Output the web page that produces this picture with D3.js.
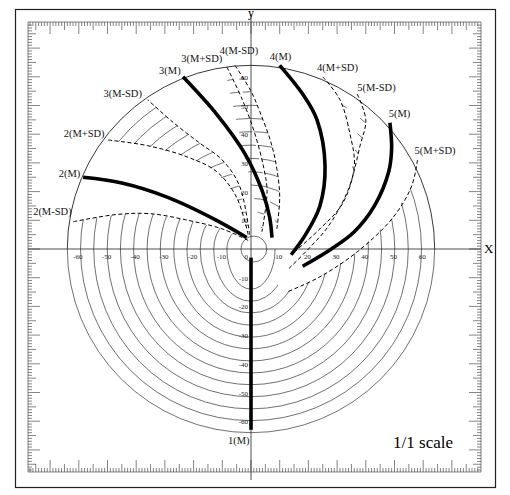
<!DOCTYPE html>
<html><head><meta charset="utf-8">
<script src="https://cdn.jsdelivr.net/npm/d3@7"></script>
<style>body{margin:0;background:#fff}</style></head>
<body><svg id="c" width="510" height="495"></svg>
<script>
// ---- data (units = mm, 1/1 scale) ----
const axisTicks = [-60,-50,-40,-30,-20,-10,10,20,30,40,50,60];
const ringRx = [8.4,13,17.7,22.3,26.9,31.6,36.2,40.9,45.5,50.1,54.8,59.4,64];
const ringRy = [14,18.2,22.3,26.5,30.7,34.8,39,43.2,47.3,51.5,55.7,59.8,64];
const curve1M    = [[0,-3],[0,-63]];
const curve2MSD  = [[-1,3],[-10,7],[-22,10],[-35,12.3],[-47,12],[-62,9.5]];
const curve2M    = [[-1.5,4],[-12,10],[-29,18],[-45,23],[-58.5,25]];
const curve2MpSD = [[-1,5],[-5,18],[-12,27],[-22,32],[-36,36],[-50,38]];
const curve3MSD  = [[-0.5,5],[-4,22],[-10,31],[-18,37],[-27,44],[-36,52]];
const curve3M    = [[-23.7,60],[-12,47],[-2,33],[4,20],[6.5,11],[7.3,4]];
const curve3MpSD = [[-8.4,63.4],[-3,52],[1.4,40],[4.5,28],[5.6,20],[3.8,6]];
const curve4MSD  = [[-5.6,64],[0,55],[3,48],[7,37],[9,28],[10,18],[9,7]];
const curve4M    = [[10,64],[18,54],[23,45],[25.8,29],[24,15],[19,5],[14,-2]];
const curve4MpSD = [[25,60],[31,52],[34.5,40],[36,29],[32,16],[24,7],[14,-2]];
const curve5MSD  = [[37,54],[40,45],[38,36],[34,21],[27,8],[20,0],[13,-7]];
const curve5M    = [[48.4,44],[49,35],[48,27],[43,15],[36,6],[28,0],[18,-6]];
const curve5MpSD = [[58,31],[56,22],[49.5,11],[37,-1],[24,-9.7],[12.5,-15]];
const labels = [
 ["1(M)",-0.5,-68,"end"],["2(M-SD)",-62.5,12,"end"],["2(M)",-59.5,25,"end"],
 ["2(M+SD)",-51,39,"end"],["3(M-SD)",-38,53,"end"],["3(M)",-24.5,61,"end"],
 ["3(M+SD)",-10,65,"end"],["4(M-SD)",2.5,68,"end"],["4(M)",6.5,66,"start"],
 ["4(M+SD)",23,62,"start"],["5(M-SD)",37,55,"start"],["5(M)",48,46,"start"],
 ["5(M+SD)",57,33,"start"]];

// ---- drawing ----
const svg = d3.select("#c");
const K = 2.87, OX = 251, OY = 249;
const x = d3.scaleLinear().domain([-80,80]).range([OX-80*K, OX+80*K]);
const y = d3.scaleLinear().domain([-80,80]).range([OY+80*K, OY-80*K]);
const line = d3.line().x(d=>x(d[0])).y(d=>y(d[1])).curve(d3.curveCatmullRom);
const poly = pts => "M"+pts.map(p=>x(p[0])+","+y(p[1])).join("L")+"Z";
const F = "'Liberation Serif', 'DejaVu Serif', serif";

// frame
svg.append("rect").attr("x",15.5).attr("y",9.5).attr("width",480).attr("height",478)
  .attr("fill","none").attr("stroke","#222").attr("stroke-width",1.2);

// rulers
const rl = {top:22, bottom:472, left:28, right:481};
const rg = svg.append("g").attr("stroke","#333").attr("stroke-width",0.6);
rg.append("line").attr("x1",rl.left).attr("x2",rl.right).attr("y1",rl.top).attr("y2",rl.top);
rg.append("line").attr("x1",rl.left).attr("x2",rl.right).attr("y1",rl.bottom).attr("y2",rl.bottom);
rg.append("line").attr("x1",rl.left).attr("x2",rl.left).attr("y1",rl.top).attr("y2",rl.bottom);
rg.append("line").attr("x1",rl.right).attr("x2",rl.right).attr("y1",rl.top).attr("y2",rl.bottom);
const tl = i => i%10===0?12:(i%5===0?8:4);
for(let i=-90;i<=90;i++){
  const px=x(i);
  if(px>rl.left+1 && px<rl.right-1){
    rg.append("line").attr("x1",px).attr("x2",px).attr("y1",rl.top).attr("y2",rl.top+tl(i));
    rg.append("line").attr("x1",px).attr("x2",px).attr("y1",rl.bottom).attr("y2",rl.bottom-tl(i));
  }
  const py=y(i);
  if(py>rl.top+1 && py<rl.bottom-1){
    rg.append("line").attr("y1",py).attr("y2",py).attr("x1",rl.left).attr("x2",rl.left+tl(i));
    rg.append("line").attr("y1",py).attr("y2",py).attr("x1",rl.right).attr("x2",rl.right-tl(i));
  }
}

// clip regions
const defs = svg.append("defs");
const cp = defs.append("clipPath").attr("id","upclip");
const ext = (a,b)=>a.concat(b.slice().reverse());
cp.append("path").attr("d", poly(curve2MSD.concat([[-75,9.5],[-75,0],[0,0]])));
cp.append("path").attr("d", poly(ext(curve2MpSD.concat([[-70,40]]), curve3MSD.concat([[-50,70]]))));
cp.append("path").attr("d", poly(ext(curve3MpSD.concat([[-12,75]]), curve4MSD.concat([[-8,75]]))));
cp.append("path").attr("d", poly(ext(curve4MpSD.slice(0,4).concat([[30,75]]), curve5MSD.slice(0,4).concat([[42,70]]))));
cp.append("path").attr("d", poly([[75,45],[58,31],[56,22],[49.5,11],[37,-1],[75,0]]));
const mk = defs.append("mask").attr("id","lowmask");
mk.append("rect").attr("x",0).attr("y",0).attr("width",510).attr("height",495).attr("fill","#fff");
mk.append("path").attr("d", poly([[12.5,-15],[24,-9.7],[37,-1],[38,0.5],[9,0.5],[9,-12]])).attr("fill","#000");

// rings
const rings = svg.append("g").attr("fill","none").attr("stroke","#333").attr("stroke-width",0.7);
const up = rings.append("g").attr("clip-path","url(#upclip)");
const low = rings.append("g").attr("mask","url(#lowmask)");
ringRx.forEach((rx,i)=>{
  const ry = ringRy[i];
  if(i < ringRx.length-1)
    up.append("path").attr("d",`M${x(-rx)},${OY} A${rx*K},${rx*K} 0 0 1 ${x(rx)},${OY}`);
  low.append("path").attr("d",`M${x(-rx)},${OY} A${rx*K},${ry*K} 0 0 0 ${x(rx)},${OY}`);
});
rings.append("path").attr("d",`M${x(-64)},${OY} A${64*K},${64*K} 0 0 1 ${x(64)},${OY}`).attr("stroke","#222").attr("stroke-width",0.9);
rings.append("circle").attr("cx",x(1)).attr("cy",y(0)).attr("r",4.5*K);

// axes
const ax = svg.append("g").attr("stroke","#222").attr("stroke-width",0.8);
ax.append("line").attr("x1",rl.left).attr("x2",rl.right).attr("y1",OY).attr("y2",OY);
ax.append("line").attr("x1",OX).attr("x2",OX).attr("y1",14).attr("y2",rl.bottom+8);
const tg = svg.append("g").attr("font-family",F).attr("font-size",7).attr("fill","#222");
axisTicks.forEach(t=>{
  tg.append("text").attr("x",x(t)-1).attr("y",OY+10).attr("text-anchor","middle").text(t);
  tg.append("text").attr("x",OX-3).attr("y",y(t)+3).attr("text-anchor","end").text(t);
});
tg.append("text").attr("x",OX-3).attr("y",OY+10).attr("text-anchor","end").text("0");
svg.append("text").attr("x",rl.right+3).attr("y",OY+4).attr("font-family",F).attr("font-size",13).text("X");
svg.append("text").attr("x",OX).attr("y",17).attr("text-anchor","middle").attr("font-family",F).attr("font-size",12).text("y");

// curves
const cg = svg.append("g").attr("fill","none").attr("stroke","#000");
[curve1M,curve2M,curve3M,curve4M,curve5M].forEach(c=>cg.append("path").attr("d",line(c)).attr("stroke-width",3.6));
[curve2MSD,curve2MpSD,curve3MSD,curve3MpSD,curve4MSD,curve4MpSD,curve5MSD,curve5MpSD].forEach(c=>
  cg.append("path").attr("d",line(c)).attr("stroke-width",1).attr("stroke-dasharray","4,2.5"));

// labels
const lg = svg.append("g").attr("font-family",F).attr("font-size",10.5).attr("fill","#111");
labels.forEach(l=>lg.append("text").attr("x",x(l[1])).attr("y",y(l[2])).attr("text-anchor",l[3]).text(l[0]));
svg.append("text").attr("x",453).attr("y",448).attr("text-anchor","end").attr("font-family",F).attr("font-size",17).text("1/1 scale");
</script></body></html>
